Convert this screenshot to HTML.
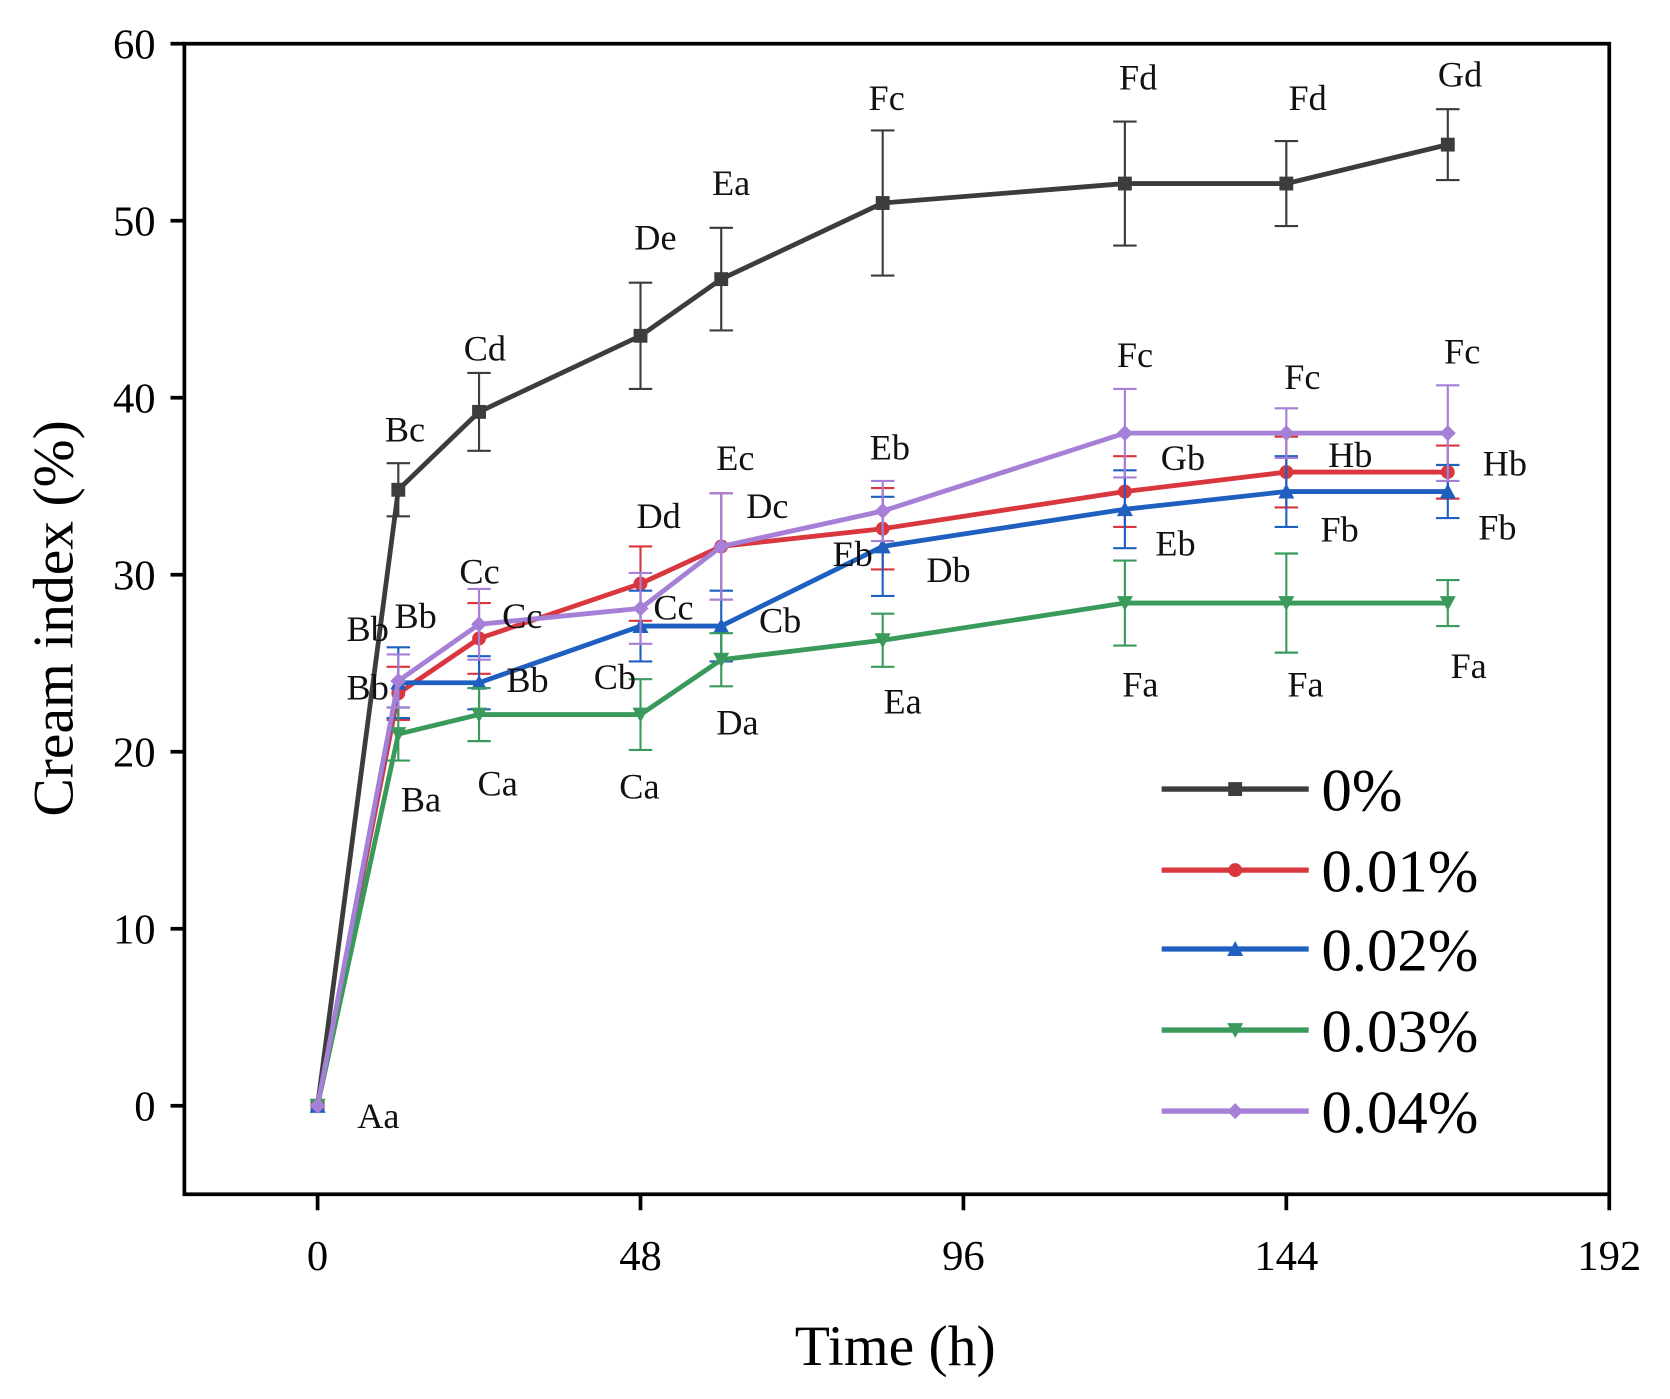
<!DOCTYPE html>
<html><head><meta charset="utf-8"><style>html,body{margin:0;padding:0;background:#fff}svg{display:block}</style></head>
<body>
<svg width="1670" height="1399" viewBox="0 0 1567 1312" preserveAspectRatio="none" xmlns="http://www.w3.org/2000/svg" font-family="Liberation Serif, serif">
<rect width="1567" height="1312" fill="#fff"/>
<g id="plot"></g>
<rect x="173" y="41" width="1337" height="1079" fill="none" stroke="#000" stroke-width="3.5"/>
<g stroke="#000" stroke-width="3.5">
<line x1="160" y1="41" x2="173" y2="41"/><line x1="160" y1="207" x2="173" y2="207"/><line x1="160" y1="373" x2="173" y2="373"/><line x1="160" y1="539" x2="173" y2="539"/><line x1="160" y1="705" x2="173" y2="705"/><line x1="160" y1="871" x2="173" y2="871"/><line x1="160" y1="1037" x2="173" y2="1037"/>
<line x1="298" y1="1120" x2="298" y2="1135"/><line x1="601" y1="1120" x2="601" y2="1135"/><line x1="904" y1="1120" x2="904" y2="1135"/><line x1="1207" y1="1120" x2="1207" y2="1135"/><line x1="1510" y1="1120" x2="1510" y2="1135"/>
</g>
<g font-size="40" text-anchor="end" fill="#000">
<text x="146" y="55">60</text><text x="146" y="221">50</text><text x="146" y="387">40</text><text x="146" y="553">30</text><text x="146" y="719">20</text><text x="146" y="885">10</text><text x="146" y="1051">0</text>
</g>
<g font-size="40" text-anchor="middle" fill="#000">
<text x="298" y="1191">0</text><text x="601" y="1191">48</text><text x="904" y="1191">96</text><text x="1207" y="1191">144</text><text x="1510" y="1191">192</text>
</g>
<text x="840" y="1280" font-size="54" text-anchor="middle">Time (h)</text>
<text transform="translate(68,580) rotate(-90)" font-size="54" text-anchor="middle">Cream index (%)</text>
<g font-size="34" text-anchor="middle" fill="#111">
<text x="355" y="1058">Aa</text><text x="345" y="601">Bb</text><text x="390" y="589">Bb</text><text x="345" y="656">Bb</text><text x="395" y="761">Ba</text><text x="380" y="414">Bc</text><text x="455" y="338">Cd</text><text x="450" y="547">Cc</text><text x="490" y="589">Cc</text><text x="495" y="649">Bb</text><text x="467" y="746">Ca</text><text x="618" y="495">Dd</text><text x="632" y="581">Cc</text><text x="577" y="646">Cb</text><text x="600" y="749">Ca</text><text x="615" y="234">De</text><text x="686" y="183">Ea</text><text x="690" y="441">Ec</text><text x="720" y="486">Dc</text><text x="732" y="593">Cb</text><text x="692" y="689">Da</text><text x="835" y="431">Eb</text><text x="800" y="531">Eb</text><text x="890" y="546">Db</text><text x="847" y="669">Ea</text><text x="832" y="103">Fc</text><text x="1068" y="84">Fd</text><text x="1065" y="344">Fc</text><text x="1110" y="441">Gb</text><text x="1103" y="521">Eb</text><text x="1070" y="653">Fa</text><text x="1227" y="103">Fd</text><text x="1222" y="365">Fc</text><text x="1267" y="438">Hb</text><text x="1257" y="508">Fb</text><text x="1225" y="653">Fa</text><text x="1370" y="81">Gd</text><text x="1372" y="341">Fc</text><text x="1412" y="446">Hb</text><text x="1405" y="506">Fb</text><text x="1378" y="636">Fa</text>
</g>
<g font-size="57" fill="#000">
<text x="1240" y="760">0%</text><text x="1240" y="836">0.01%</text><text x="1240" y="910">0.02%</text><text x="1240" y="986">0.03%</text><text x="1240" y="1062">0.04%</text>
</g>
<g id="leg"></g>
<script>
const NS="http://www.w3.org/2000/svg";
const X=t=>298+t*6.3125, Y=v=>1037-v*16.6;
const T=[0,12,24,48,60,84,120,144,168];
const S=[
["#3c3c3c",[0,34.8,39.2,43.5,46.7,51,52.1,52.1,54.3],[0,1.5,2.2,3,2.9,4.1,3.5,2.4,2],"sq",740],
["#d9363e",[0,23.3,26.4,29.5,31.6,32.6,34.7,35.8,35.8],[0,1.5,2,2.1,3,2.3,2,2,1.5],"ci",816],
["#1f5fbf",[0,23.9,23.9,27.1,27.1,31.6,33.7,34.7,34.7],[0,2,1.5,2,2,2.8,2.2,2,1.5],"tu",890],
["#3a9a5b",[0,21,22.1,22.1,25.2,26.3,28.4,28.4,28.4],[0,1.5,1.5,2,1.5,1.5,2.4,2.8,1.3],"td",966],
["#a67fd6",[0,24,27.2,28.1,31.6,33.6,38,38,38],[0,1.5,2,2,3,1.7,2.5,1.4,2.7],"di",1042]];
const P=document.getElementById("plot"),L=document.getElementById("leg");
function el(p,n,a){const e=document.createElementNS(NS,n);for(const k in a)e.setAttribute(k,a[k]);p.appendChild(e);return e;}
function mk(p,x,y,s,c){const r=6.5;
 if(s=="sq")el(p,"rect",{x:x-r,y:y-r,width:2*r,height:2*r,fill:c});
 else if(s=="ci")el(p,"circle",{cx:x,cy:y,r:r,fill:c});
 else if(s=="tu")el(p,"polygon",{points:`${x},${y-r-1} ${x-r-1},${y+r} ${x+r+1},${y+r}`,fill:c});
 else if(s=="td")el(p,"polygon",{points:`${x},${y+r+1} ${x-r-1},${y-r} ${x+r+1},${y-r}`,fill:c});
 else el(p,"polygon",{points:`${x},${y-r-1} ${x+r+1},${y} ${x},${y+r+1} ${x-r-1},${y}`,fill:c});}
for(const [c,v,e,s,ly] of S){
 for(let i=0;i<9;i++){if(!e[i])continue;const x=X(T[i]),a=Y(v[i]+e[i]),b=Y(v[i]-e[i]);
  el(P,"line",{x1:x,y1:a,x2:x,y2:b,stroke:c,"stroke-width":2});
  el(P,"line",{x1:x-11,y1:a,x2:x+11,y2:a,stroke:c,"stroke-width":2});
  el(P,"line",{x1:x-11,y1:b,x2:x+11,y2:b,stroke:c,"stroke-width":2});}
 el(P,"polyline",{points:T.map((t,i)=>X(t)+","+Y(v[i])).join(" "),fill:"none",stroke:c,"stroke-width":4.5});
 for(let i=0;i<9;i++)mk(P,X(T[i]),Y(v[i]),s,c);
 el(L,"line",{x1:1090,y1:ly,x2:1228,y2:ly,stroke:c,"stroke-width":5});mk(L,1159,ly,s,c);
}
</script>
</svg>
</body></html>
